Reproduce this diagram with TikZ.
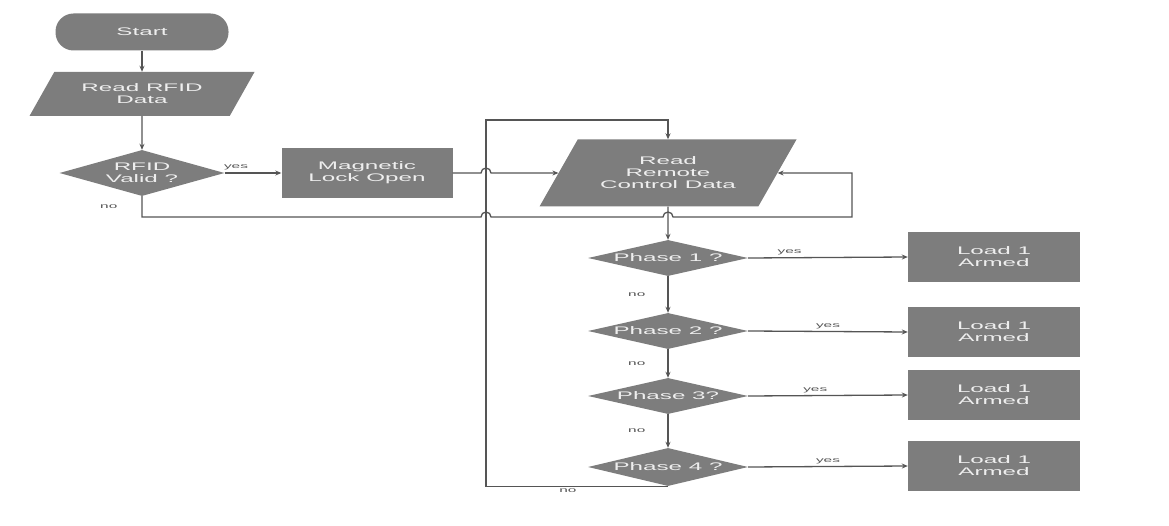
\documentclass[tikz,border=0pt]{standalone}
\usepackage{fontspec}
\newfontfamily\flowfont[FakeStretch=2.2]{Liberation Sans}
\usetikzlibrary{shapes.geometric,arrows.meta}
\definecolor{boxgray}{RGB}{125,125,125}
\definecolor{boxtext}{RGB}{238,238,238}
\definecolor{linegray}{RGB}{85,85,85}
\tikzset{
  base/.style={fill=boxgray, draw=none, text=boxtext, align=center, inner sep=0pt,
    font=\flowfont\fontsize{11}{12}\selectfont},
  startbox/.style={base, rectangle, rounded corners=18pt, minimum width=173pt, minimum height=37pt},
  iobox/.style={base, trapezium, trapezium stretches body},
  procbox/.style={base, rectangle, minimum width=172pt, minimum height=50pt},
  decision/.style={base, diamond, aspect=4},
  link/.style={draw=linegray, line width=1.3pt},
  arrowlink/.style={link, -{Stealth[length=6pt,width=5pt]}},
  lbl/.style={font=\flowfont\fontsize{7}{8}\selectfont, text=linegray, inner sep=2pt}
}
\begin{document}
\begin{tikzpicture}[x=1pt, y=-1pt]
\useasboundingbox (0,0) rectangle (1169,526);
%%%%% Left column %%%%%
\node[startbox] (start) at (142,32) {Start};
\node[iobox, trapezium left angle=39, trapezium right angle=141,
  minimum width=225pt, minimum height=44pt] (rfid) at (142,94) {Read RFID\\Data};
\node[decision, minimum width=165pt, minimum height=46pt] (valid) at (142,173) {RFID\\Valid ?};
\node[procbox, minimum width=171pt] (lock) at (367,173) {Magnetic\\Lock Open};
%%%%% Remote control %%%%%
\node[iobox, trapezium left angle=40, trapezium right angle=140,
  minimum width=257pt, minimum height=67pt] (remote) at (668,173) {Read\\Remote\\Control Data};
\node[decision, minimum width=160pt, minimum height=36pt] (phase1) at (668,258) {Phase 1 ?};
\node[decision, minimum width=160pt, minimum height=36pt] (phase2) at (668,331) {Phase 2 ?};
\node[decision, minimum width=160pt, minimum height=36pt] (phase3) at (668,396) {Phase 3?};
\node[decision, minimum width=160pt, minimum height=38pt] (phase4) at (668,467) {Phase 4 ?};
\node[procbox] (load1) at (994,257) {Load 1\\Armed};
\node[procbox] (load2) at (994,332) {Load 1\\Armed};
\node[procbox] (load3) at (994,395) {Load 1\\Armed};
\node[procbox] (load4) at (994,466) {Load 1\\Armed};
%%%%% Helper points %%%%%
\coordinate (nocorner) at (142,217);
\coordinate (nofar) at (852,217);
\coordinate (hopA) at (486,217);
\coordinate (hopB) at (668,217);
\coordinate (hopC) at (486,173);
\coordinate (looptop) at (486,120);
%%%%% Connectors %%%%%
\draw[arrowlink] (start) -- (rfid);
\draw[arrowlink] (rfid) -- (valid);
\draw[arrowlink] (valid.east) -- node[lbl, above, pos=0.2] {yes} (lock.west);
\draw[arrowlink] (valid.south) -- node[lbl, left, xshift=-22pt] {no} (nocorner)
  -- ([xshift=-5pt]hopA) arc[start angle=180, end angle=0, radius=5pt]
  -- ([xshift=-5pt]hopB) arc[start angle=180, end angle=0, radius=5pt]
  -- (nofar) |- (remote.east);
\draw[arrowlink] (lock.east) -- ([xshift=-5pt]hopC) arc[start angle=180, end angle=0, radius=5pt]
  -- (remote.west);
\draw[arrowlink] (remote.south) -- (phase1.north);
\draw[arrowlink] (phase1.south) -- node[lbl, left, xshift=-20pt] {no} (phase2.north);
\draw[arrowlink] (phase2.south) -- node[lbl, left, xshift=-20pt] {no} (phase3.north);
\draw[arrowlink] (phase3.south) -- node[lbl, left, xshift=-20pt] {no} (phase4.north);
\draw[arrowlink] (phase1.east) -- node[lbl, above, pos=0.26] {yes} (load1.west);
\draw[arrowlink] (phase2.east) -- node[lbl, above, pos=0.5] {yes} (load2.west);
\draw[arrowlink] (phase3.east) -- node[lbl, above, pos=0.42] {yes} (load3.west);
\draw[arrowlink] (phase4.east) -- node[lbl, above, pos=0.5] {yes} (load4.west);
\draw[arrowlink] (phase4.south) -- node[lbl, below, pos=0.55] {no} (phase4.south -| looptop)
  -- (looptop) -| (remote.north);
\end{tikzpicture}
\end{document}
